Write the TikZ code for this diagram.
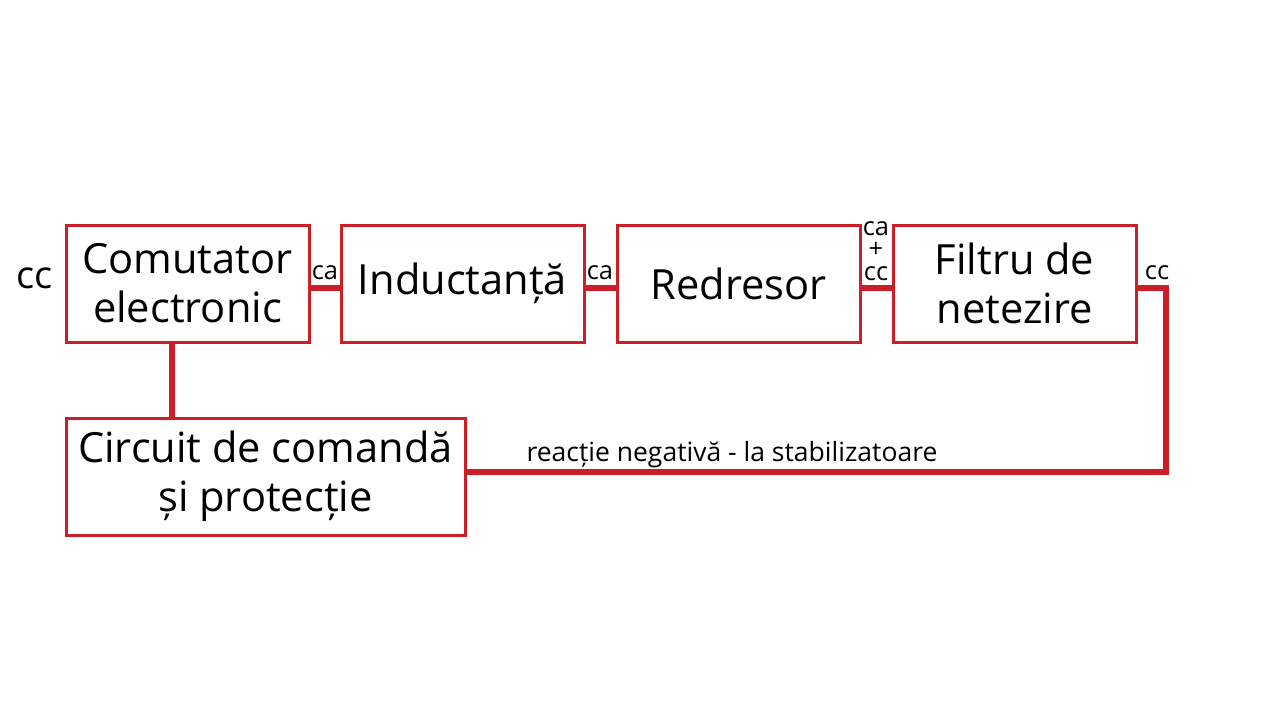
\documentclass[tikz,border=0pt]{standalone}
\usepackage{fontspec}
\setmainfont{Open Sans}
\usetikzlibrary{calc}
\definecolor{boxred}{RGB}{204,30,38}
\tikzset{
  blk/.style={draw=boxred, line width=3pt, fill=white, rectangle, minimum width=243pt, minimum height=117pt, inner sep=0pt, align=center, font=\fontsize{41.6}{49}\selectfont},
  conn/.style={draw=boxred, line width=6pt, line join=miter},
  lbl/.style={inner sep=0pt, align=center, font=\fontsize{25.5}{22.5}\selectfont},
  biglbl/.style={inner sep=0pt, font=\fontsize{38}{38}\selectfont}
}
\begin{document}
\begin{tikzpicture}[x=1pt,y=-1pt]
\useasboundingbox[fill=white] (0,0) rectangle (1280,720);
\node[blk] (b1) at (187.5,283.5) {Comutator\\electronic};
\node[blk] (b2) at (462.5,283.5) {Inductanță};
\node[blk] (b3) at (738.5,283.5) {Redresor};
\node[blk] (b4) at (1014.5,283.5) {Filtru de\\netezire};
\node[blk, minimum width=399pt] (b5) at (265.5,476.5) {Circuit de comandă\\și protecție};
\coordinate (c1) at (1166,288);
\coordinate (c2) at (1166,472);
\draw[conn] ([yshift=-4.5pt]b1.east) -- ([yshift=-4.5pt]b2.west);
\draw[conn] ([yshift=-4.5pt]b2.east) -- ([yshift=-4.5pt]b3.west);
\draw[conn] ([yshift=-4.5pt]b3.east) -- ([yshift=-4.5pt]b4.west);
\draw[conn] ([yshift=-4.5pt]b4.east) -- (c1) -- (c2) -- ([yshift=4.5pt]b5.east);
\draw[conn] ([xshift=-15.5pt]b1.south) -- ([xshift=-15.5pt]b1.south |- b5.north);
\node[biglbl] (lcc) at (35,278) {cc};
\node[lbl] (l1) at (325,273) {ca};
\node[lbl] (l2) at (600,273) {ca};
\node[lbl] (l3) at (876,251) {ca\\+\\cc};
\node[lbl] (l4) at (1157,273) {cc};
\node[lbl, font=\fontsize{26.5}{26.5}\selectfont] (l5) at (732,455) {reacție negativă - la stabilizatoare};
\end{tikzpicture}
\end{document}
